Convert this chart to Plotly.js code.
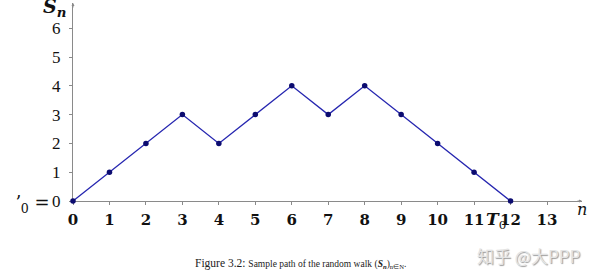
<!DOCTYPE html>
<html>
<head>
<meta charset="utf-8">
<script src="https://cdn.plot.ly/plotly-3.0.1.min.js"></script>
<style>html,body{margin:0;padding:0;background:#fff;}#chart{width:600px;height:280px;}</style>
</head>
<body>
<div id="chart"></div>
<script>
// Data
const steps = [0,1,2,3,4,5,6,7,8,9,10,11,12];
const walk  = [0,1,2,3,2,3,4,3,4,3,2,1,0];
const xTicks = [0,1,2,3,4,5,6,7,8,9,10,11,12,13];
const xTickLabels = ['0','1','2','3','4','5','6','7','8','9','10','11','12','13'];
const yTicks = [0,1,2,3,4,5,6];
const yTickLabels = ['0','1','2','3','4','5','6'];

const axisColor = '#8a8a8a';
const W = 600, H = 280;
// pixel frame of the axes (origin and arrow tips)
const ox = 73, oy = 201, xEndPx = 582, yEndPx = 3;
const xMax = 13.96, yMax = 6.875;
const sx = (xEndPx - ox) / xMax, sy = (oy - yEndPx) / yMax;

function px2x(px){ return px / W; }
function px2y(py){ return 1 - py / H; }

// extended frame for the data layer (so markers on the axes are not clipped)
const eL = 45, eB = 225;
const x3range = [(eL - ox) / sx, xMax];
const y3range = [-(eB - oy) / sy, yMax];

const trace = {
  x: steps, y: walk, type: 'scatter', mode: 'lines+markers',
  xaxis: 'x3', yaxis: 'y3',
  line: {color: '#2626b0', width: 1.3},
  marker: {color: '#0c0c70', size: 5.5},
  cliponaxis: false, hoverinfo: 'skip', showlegend: false
};

const baseAxis = {
  showgrid: false, zeroline: false, showline: true, linecolor: axisColor, linewidth: 1,
  ticks: 'outside', ticklen: 3, tickcolor: axisColor, tickwidth: 1, fixedrange: true
};
const xDom = [px2x(ox), px2x(xEndPx)];
const yDom = [px2y(oy), px2y(yEndPx)];

const layout = {
  width: W, height: H,
  margin: {l: 0, r: 0, t: 0, b: 0},
  paper_bgcolor: '#fff', plot_bgcolor: 'rgba(0,0,0,0)',
  showlegend: false,
  xaxis: Object.assign({}, baseAxis, {
    domain: xDom, range: [0, xMax], tickvals: xTicks, ticktext: xTickLabels,
    tickfont: {family: 'DejaVu Serif', size: 15, color: '#111', weight: 'bold'},
    ticklabelstandoff: 2
  }),
  yaxis: Object.assign({}, baseAxis, {
    domain: yDom, range: [0, yMax], tickvals: yTicks, ticktext: yTickLabels,
    tickfont: {family: 'Liberation Serif', size: 17, color: '#111'},
    ticklabelstandoff: 5
  }),
  xaxis2: Object.assign({}, baseAxis, {
    domain: xDom, range: [0, xMax], tickvals: xTicks, ticks: 'inside', showticklabels: false,
    overlaying: 'x', anchor: 'y2', showline: false
  }),
  yaxis2: Object.assign({}, baseAxis, {
    domain: yDom, range: [0, yMax], tickvals: yTicks, ticks: 'inside', showticklabels: false,
    overlaying: 'y', anchor: 'x2', showline: false
  }),
  xaxis3: {domain: [px2x(eL), px2x(xEndPx)], range: x3range, visible: false, anchor: 'y3', fixedrange: true},
  yaxis3: {domain: [px2y(eB), px2y(yEndPx)], range: y3range, visible: false, anchor: 'x3', fixedrange: true},
  annotations: [
    // axis arrow tips
    {x: xMax, y: 0, xref: 'x', yref: 'y', ax: -6, ay: 0, showarrow: true, arrowhead: 2, arrowsize: 0.6, arrowwidth: 1, arrowcolor: axisColor, text: ''},
    {x: 0, y: yMax, xref: 'x', yref: 'y', ax: 0, ay: 6, showarrow: true, arrowhead: 2, arrowsize: 0.6, arrowwidth: 1, arrowcolor: axisColor, text: ''},
    // axis titles
    {x: px2x(55), y: px2y(7), xref: 'paper', yref: 'paper', xanchor: 'center', yanchor: 'middle', showarrow: false,
      text: '<b><i>S<sub>n</sub></i></b>', font: {family: 'DejaVu Serif', size: 19, color: '#111'}},
    {x: px2x(582), y: px2y(209), xref: 'paper', yref: 'paper', xanchor: 'center', yanchor: 'middle', showarrow: false,
      text: '<i>n</i>', font: {family: 'DejaVu Serif', size: 16, color: '#111'}},
    // T0 near 12
    {x: 12, y: 0, xref: 'x', yref: 'y', xanchor: 'center', yanchor: 'middle', showarrow: false, xshift: -15, yshift: -19,
      text: '<b><i>T</i></b><sub>0</sub>', font: {family: 'DejaVu Serif', size: 17, color: '#111'}},
    // clipped left label
    {x: px2x(52), y: px2y(201), xref: 'paper', yref: 'paper', xanchor: 'right', yanchor: 'middle', showarrow: false, yshift: -3,
      text: 'ʼ<sub>0</sub> =', font: {family: 'DejaVu Serif', size: 18, color: '#111'}},
    // caption
    {x: px2x(300), y: px2y(263), xref: 'paper', yref: 'paper', xanchor: 'center', yanchor: 'middle', showarrow: false,
      text: 'Figure 3.2: <span style="font-size:9.5px">Sample path of the random walk (<b><i>S<sub>n</sub></i></b>)<sub>n∈N</sub>.</span>',
      font: {family: 'Liberation Serif', size: 11.5, color: '#222'}},
    // watermark
    {x: px2x(528), y: px2y(255), xref: 'paper', yref: 'paper', xanchor: 'center', yanchor: 'middle', showarrow: false,
      text: '知乎 @大PPP', font: {family: 'Noto Sans CJK SC', size: 17, color: '#e4e4e4', shadow: '1px 1px 1px #9a9a9a'}}
  ]
};

Plotly.newPlot('chart', [trace], layout, {staticPlot: true, displayModeBar: false});
</script>
</body>
</html>
